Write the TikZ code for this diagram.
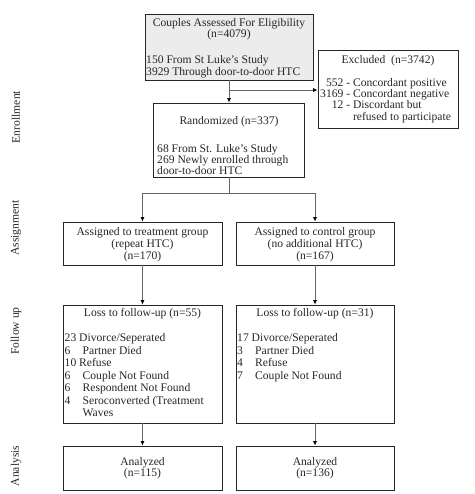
\documentclass[tikz,border=0pt]{standalone}
\usepackage{fontspec}
\setmainfont{Liberation Serif}
\usetikzlibrary{arrows.meta}
\newcommand\numcol[1]{\makebox[18pt][l]{#1}}
\begin{document}
\begin{tikzpicture}[x=1pt,y=-1pt,
  box/.style={draw=black!85, line width=0.9pt, inner sep=0pt},
  txt/.style={inner sep=0pt, text=black!85, font=\fontsize{11.6}{10.4}\selectfont},
  lbl/.style={txt, anchor=base},
  lft/.style={txt, anchor=base west},
  side/.style={txt, rotate=90, anchor=center},
  conn/.style={draw=black!60, line width=0.7pt},
  arr/.style={conn, -{Latex[length=4.5pt,width=4pt,color=black]}}]
\useasboundingbox (0,0) rectangle (474,494);
% boxes
\node[box, fill=gray!15, minimum width=168pt, minimum height=66pt] (elig) at (229,47) {};
\node[box, minimum width=140pt, minimum height=78pt] (excl) at (388,89) {};
\node[box, minimum width=151pt, minimum height=74pt] (rand) at (229,140) {};
\node[box, minimum width=159pt, minimum height=43pt] (treat) at (142.5,243.5) {};
\node[box, minimum width=158pt, minimum height=43pt] (ctrl) at (315,243.5) {};
\node[box, minimum width=159pt, minimum height=118pt] (loss1) at (142.5,364) {};
\node[box, minimum width=158pt, minimum height=118pt] (loss2) at (315,364) {};
\node[box, minimum width=159pt, minimum height=44pt] (an1) at (142.5,468) {};
\node[box, minimum width=158pt, minimum height=44pt] (an2) at (315,468) {};
% texts: eligibility
\node[lbl] (eligA) at (229,26.5) {Couples Assessed For Eligibility};
\node[lbl] (eligB) at (229,37.5) {(n=4079)};
\node[lft] (eligC) at (146,64) {150 From St Luke's Study};
\node[lft] (eligD) at (146,75.5) {3929 Through door-to-door HTC};
% excluded
\node[lbl] (exclA) at (388,63.5) {Excluded\ \ (n=3742)};
\node[lft, anchor=base west] (exclB) at (320,86.5) {\begin{tabular}[t]{@{}r@{ - }l@{}}
552 & Concordant positive\\
3169 & Concordant negative\\
12 & Discordant but\\
\multicolumn{1}{r@{\hphantom{ - }}}{} & refused to participate
\end{tabular}};
% randomized
\node[lbl] (randA) at (229,125) {Randomized (n=337)};
\node[lft] (randB) at (157,152.5) {68 From St. Luke's Study};
\node[lft] (randC) at (157,163.8) {269 Newly enrolled through};
\node[lft] (randD) at (157,175) {door-to-door HTC};
% assignment
\node[lbl] (treatA) at (142.5,235) {Assigned to treatment group};
\node[lbl] (treatB) at (142.5,247) {(repeat HTC)};
\node[lbl] (treatC) at (142.5,259) {(n=170)};
\node[lbl] (ctrlA) at (315,235) {Assigned to control group};
\node[lbl] (ctrlB) at (315,247) {(no additional HTC)};
\node[lbl] (ctrlC) at (315,259) {(n=167)};
% loss to follow-up
\node[lbl] (l1T) at (142.5,316) {Loss to follow-up (n=55)};
\node[lft] (l1a) at (64.5,341.5) {23 Divorce/Seperated};
\node[lft] (l1b) at (64.5,354) {\numcol{6}Partner Died};
\node[lft] (l1c) at (64.5,366.5) {10 Refuse};
\node[lft] (l1d) at (64.5,379) {\numcol{6}Couple Not Found};
\node[lft] (l1e) at (64.5,391.5) {\numcol{6}Respondent Not Found};
\node[lft] (l1f) at (64.5,404) {\numcol{4}Seroconverted (Treatment};
\node[lft] (l1g) at (64.5,416.5) {\numcol{}Waves};
\node[lbl] (l2T) at (315,316) {Loss to follow-up (n=31)};
\node[lft] (l2a) at (237,341.5) {17 Divorce/Seperated};
\node[lft] (l2b) at (237,354) {\numcol{3}Partner Died};
\node[lft] (l2c) at (237,366.5) {\numcol{4}Refuse};
\node[lft] (l2d) at (237,379) {\numcol{7}Couple Not Found};
% analyzed
\node[lbl] (an1A) at (142.5,465) {Analyzed};
\node[lbl] (an1B) at (142.5,476) {(n=115)};
\node[lbl] (an2A) at (315,465) {Analyzed};
\node[lbl] (an2B) at (315,476) {(n=136)};
% side labels
\node[side] (sEnr) at (16,117) {Enrollment};
\node[side] (sAsg) at (16,228) {Assignment};
\node[side] (sFol) at (16,331) {Follow up};
\node[side] (sAna) at (16,466) {Analysis};
% connectors
\coordinate (br1) at (229,90);
\coordinate (br2) at (229,193);
\draw[arr] (elig.south) -- (rand.north);
\draw[arr] (br1) -- (br1 -| excl.west);
\draw[conn] (rand.south) -- (br2);
\draw[arr] (br2) -| (treat.north);
\draw[arr] (br2) -| (ctrl.north);
\draw[arr] (treat.south) -- (loss1.north);
\draw[arr] (ctrl.south) -- (loss2.north);
\draw[arr] (loss1.south) -- (an1.north);
\draw[arr] (loss2.south) -- (an2.north);
\end{tikzpicture}
\end{document}
